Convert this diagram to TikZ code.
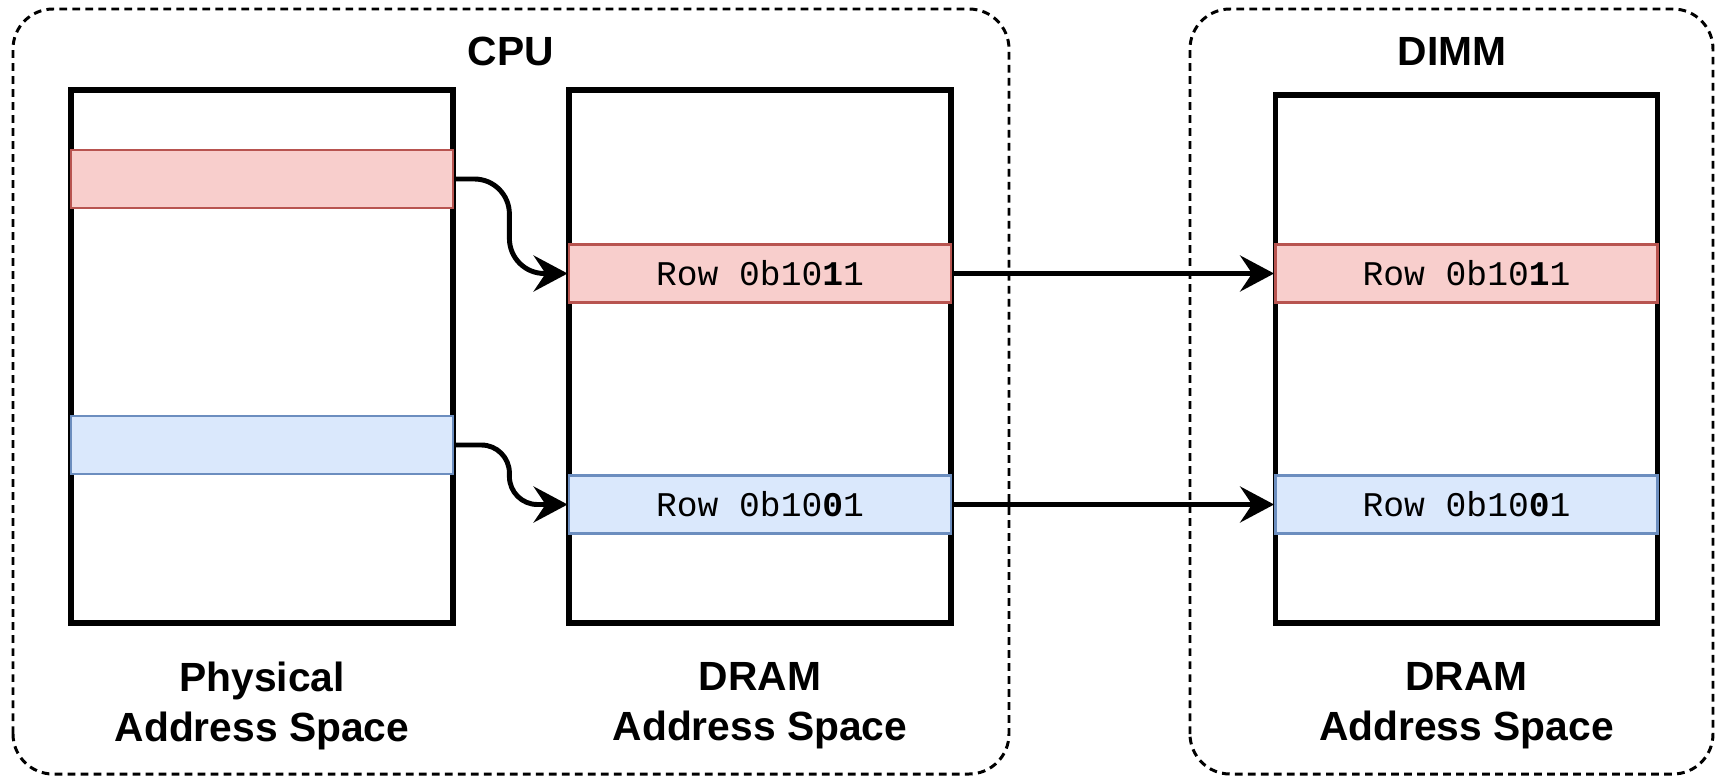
\documentclass[tikz,border=0pt]{standalone}
\usepackage{fontspec}
\setmainfont{Liberation Sans}
\setmonofont{Liberation Mono}
\usetikzlibrary{arrows.meta,positioning}
\definecolor{rowred}{HTML}{F8CECC}
\definecolor{rowredline}{HTML}{B85450}
\definecolor{rowblue}{HTML}{DAE8FC}
\definecolor{rowblueline}{HTML}{6C8EBF}
\tikzset{
  chipbox/.style={draw,dash pattern=on 2.2pt off 1.5pt,line width=0.85pt,rounded corners=0.4cm},
  space/.style={draw,line width=1.5pt,minimum width=3.82cm,minimum height=5.33cm,inner sep=0pt},
  band/.style={draw,line width=0.8pt,minimum width=3.82cm,minimum height=0.58cm,inner sep=0pt,
    font=\fontsize{9.85}{12}\selectfont\ttfamily},
  redrow/.style={band,fill=rowred,draw=rowredline},
  bluerow/.style={band,fill=rowblue,draw=rowblueline},
  title/.style={font=\fontsize{11.6}{14.2}\selectfont\bfseries,align=center},
  map/.style={line width=1.4pt,-{Stealth[length=3.4mm,width=3.6mm,inset=1.2mm]}}
}

\begin{document}
\begin{tikzpicture}
    \useasboundingbox (0,0) rectangle (17.16,7.78);
    % memory controller and module
    \draw[chipbox] (0.13,0.04) rectangle (10.09,7.69);
    \draw[chipbox] (11.90,0.04) rectangle (17.13,7.69);
    \node[title] (cpu) at (5.11,7.27) {CPU};
    \node[title] (dimm) at (14.52,7.27) {DIMM};

    % address spaces
    \node[space] (phys) at (2.62,4.215) {};
    \node[space] (dram) at (7.60,4.215) {};
    \node[space,minimum height=5.28cm] (dimmdram) at (14.665,4.19) {};
    \node[title,below=0.24cm of phys] (physname) {Physical\\Address Space};
    \node[title,below=0.24cm of dram] (dramname) {DRAM\\Address Space};
    \node[title,below=0.24cm of dimmdram] (dimmname) {DRAM\\Address Space};

    % rows
    \node[redrow] (physred) at (2.62,5.99) {};
    \node[bluerow] (physblue) at (2.62,3.33) {};
    \node[redrow] (dramred) at (7.60,5.045) {Row 0b10\textbf{1}1};
    \node[bluerow] (drambblue) at (7.60,2.735) {Row 0b10\textbf{0}1};
    \node[redrow] (dimmred) at (14.665,5.045) {Row 0b10\textbf{1}1};
    \node[bluerow] (dimmblue) at (14.665,2.735) {Row 0b10\textbf{0}1};

    % mapping
    \draw[map,rounded corners=0.35cm] (physred.east) -- ++(0.55,0) |- (dramred.west);
    \draw[map,rounded corners=0.28cm] (physblue.east) -- ++(0.55,0) |- (drambblue.west);
    \draw[map] (dramred.east) -- (dimmred.west);
    \draw[map] (drambblue.east) -- (dimmblue.west);
\end{tikzpicture}
\end{document}
